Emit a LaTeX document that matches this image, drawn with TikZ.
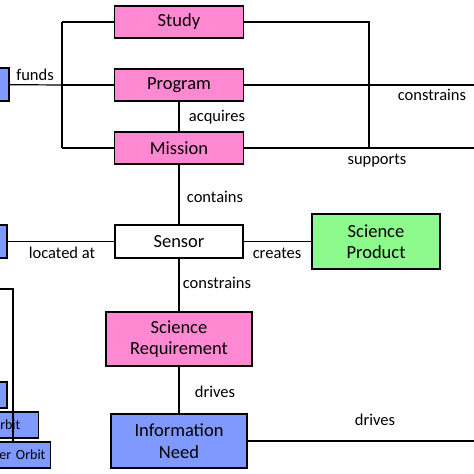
\documentclass[tikz,border=0pt]{standalone}
\usepackage{fontspec}
\setmainfont{Carlito}
\usetikzlibrary{positioning}

\definecolor{pinkfill}{RGB}{255,136,210}
\definecolor{greenfill}{RGB}{140,250,140}
\definecolor{bluefill}{RGB}{128,153,255}

\begin{document}
\begin{tikzpicture}[x=1pt,y=-1pt]
\tikzset{
  entity/.style={rectangle,draw,line width=1.4pt,inner sep=1pt,align=center,
    font=\fontsize{18.5}{21.5}\selectfont},
  pinkbox/.style={entity,fill=pinkfill},
  greenbox/.style={entity,fill=greenfill},
  bluebox/.style={entity,fill=bluefill},
  whitebox/.style={entity,fill=white},
  orbitbox/.style={rectangle,draw,line width=1.2pt,fill=bluefill,align=right,
    font=\fontsize{14}{16}\selectfont,minimum height=26pt,inner ysep=0pt},
  relation/.style={font=\fontsize{16.5}{18}\selectfont,inner sep=1pt},
  link/.style={line width=1.2pt}
}
\useasboundingbox (0,0) rectangle (474,474);
\clip (0,0) rectangle (474,474);
\fill[white] (0,0) rectangle (474,474);
% entities
\node[pinkbox,minimum width=129pt,minimum height=32pt] (n_Study) at (179,22) {Study};
\node[pinkbox,minimum width=129pt,minimum height=32pt] (n_Program) at (179,85) {Program};
\node[pinkbox,minimum width=129pt,minimum height=32pt] (n_Mission) at (179,148) {Mission};
\node[whitebox,minimum width=128pt,minimum height=33pt] (n_Sensor) at (179,241.5) {Sensor};
\node[greenbox,minimum width=128pt,minimum height=55pt] (n_Product) at (376,241.5) {Science\\Product};
\node[pinkbox,minimum width=146pt,minimum height=54pt] (n_Requirement) at (179,339) {Science\\Requirement};
\node[bluebox,minimum width=136pt,minimum height=54pt] (n_Need) at (179,441) {Information\\Need};
% entities cut off at the left edge
\node[bluebox,minimum width=50pt,minimum height=33pt] (n_Funder) at (-16,84.5) {};
\node[bluebox,minimum width=50pt,minimum height=33pt] (n_Platform) at (-18,241.5) {};
\node[bluebox,line width=1.2pt,minimum width=50pt,minimum height=26pt] (n_OrbitTop) at (-18,395) {};
\node[orbitbox,anchor=east,text width=40pt,inner xsep=18pt] (n_OrbitA) at (39,425) {rbit};
\draw[line width=1.2pt] (-100,289) rectangle (13,455);
\node[orbitbox,anchor=east,text width=60pt,inner xsep=5pt] (n_OrbitB) at (51,455) {er Orbit};
% bus points
\coordinate (b_top) at (62,22);
\coordinate (b_mid) at (62,85);
\coordinate (b_bot) at (62,148);
\coordinate (r_top) at (369,22);
\coordinate (r_mid) at (369,85);
\coordinate (r_bot) at (369,148);
\coordinate (e_mid) at (474,85);
\coordinate (e_bot) at (474,148);
\coordinate (e_need) at (474,441);
% connectors
\draw[link] (n_Funder) -- (b_mid);
\draw[link] (b_top) -- (b_bot);
\draw[link] (b_top) -- (n_Study);
\draw[link] (b_mid) -- (n_Program);
\draw[link] (b_bot) -- (n_Mission);
\draw[link] (n_Study) -- (r_top) -- (r_bot);
\draw[link] (n_Program) -- (e_mid);
\draw[link] (n_Mission) -- (e_bot);
\draw[link] (n_Program) -- (n_Mission);
\draw[link] (n_Mission) -- (n_Sensor);
\draw[link] (n_Platform) -- (n_Sensor);
\draw[link] (n_Sensor) -- (n_Product);
\draw[link] (n_Sensor) -- (n_Requirement);
\draw[link] (n_Requirement) -- (n_Need);
\draw[link] (n_Need) -- (e_need);
% relation labels
\node[relation] (l_funds) at (35,75) {funds};
\node[relation] (l_acquires) at (217,117) {acquires};
\node[relation] (l_constrainsA) at (432,95) {constrains};
\node[relation] (l_supports) at (377,161) {supports};
\node[relation] (l_contains) at (215,197) {contains};
\node[relation] (l_located) at (62,253) {located at};
\node[relation] (l_creates) at (277,253) {creates};
\node[relation] (l_constrainsB) at (217,283) {constrains};
\node[relation] (l_drivesA) at (215,392) {drives};
\node[relation] (l_drivesB) at (375,420) {drives};
\end{tikzpicture}
\end{document}
